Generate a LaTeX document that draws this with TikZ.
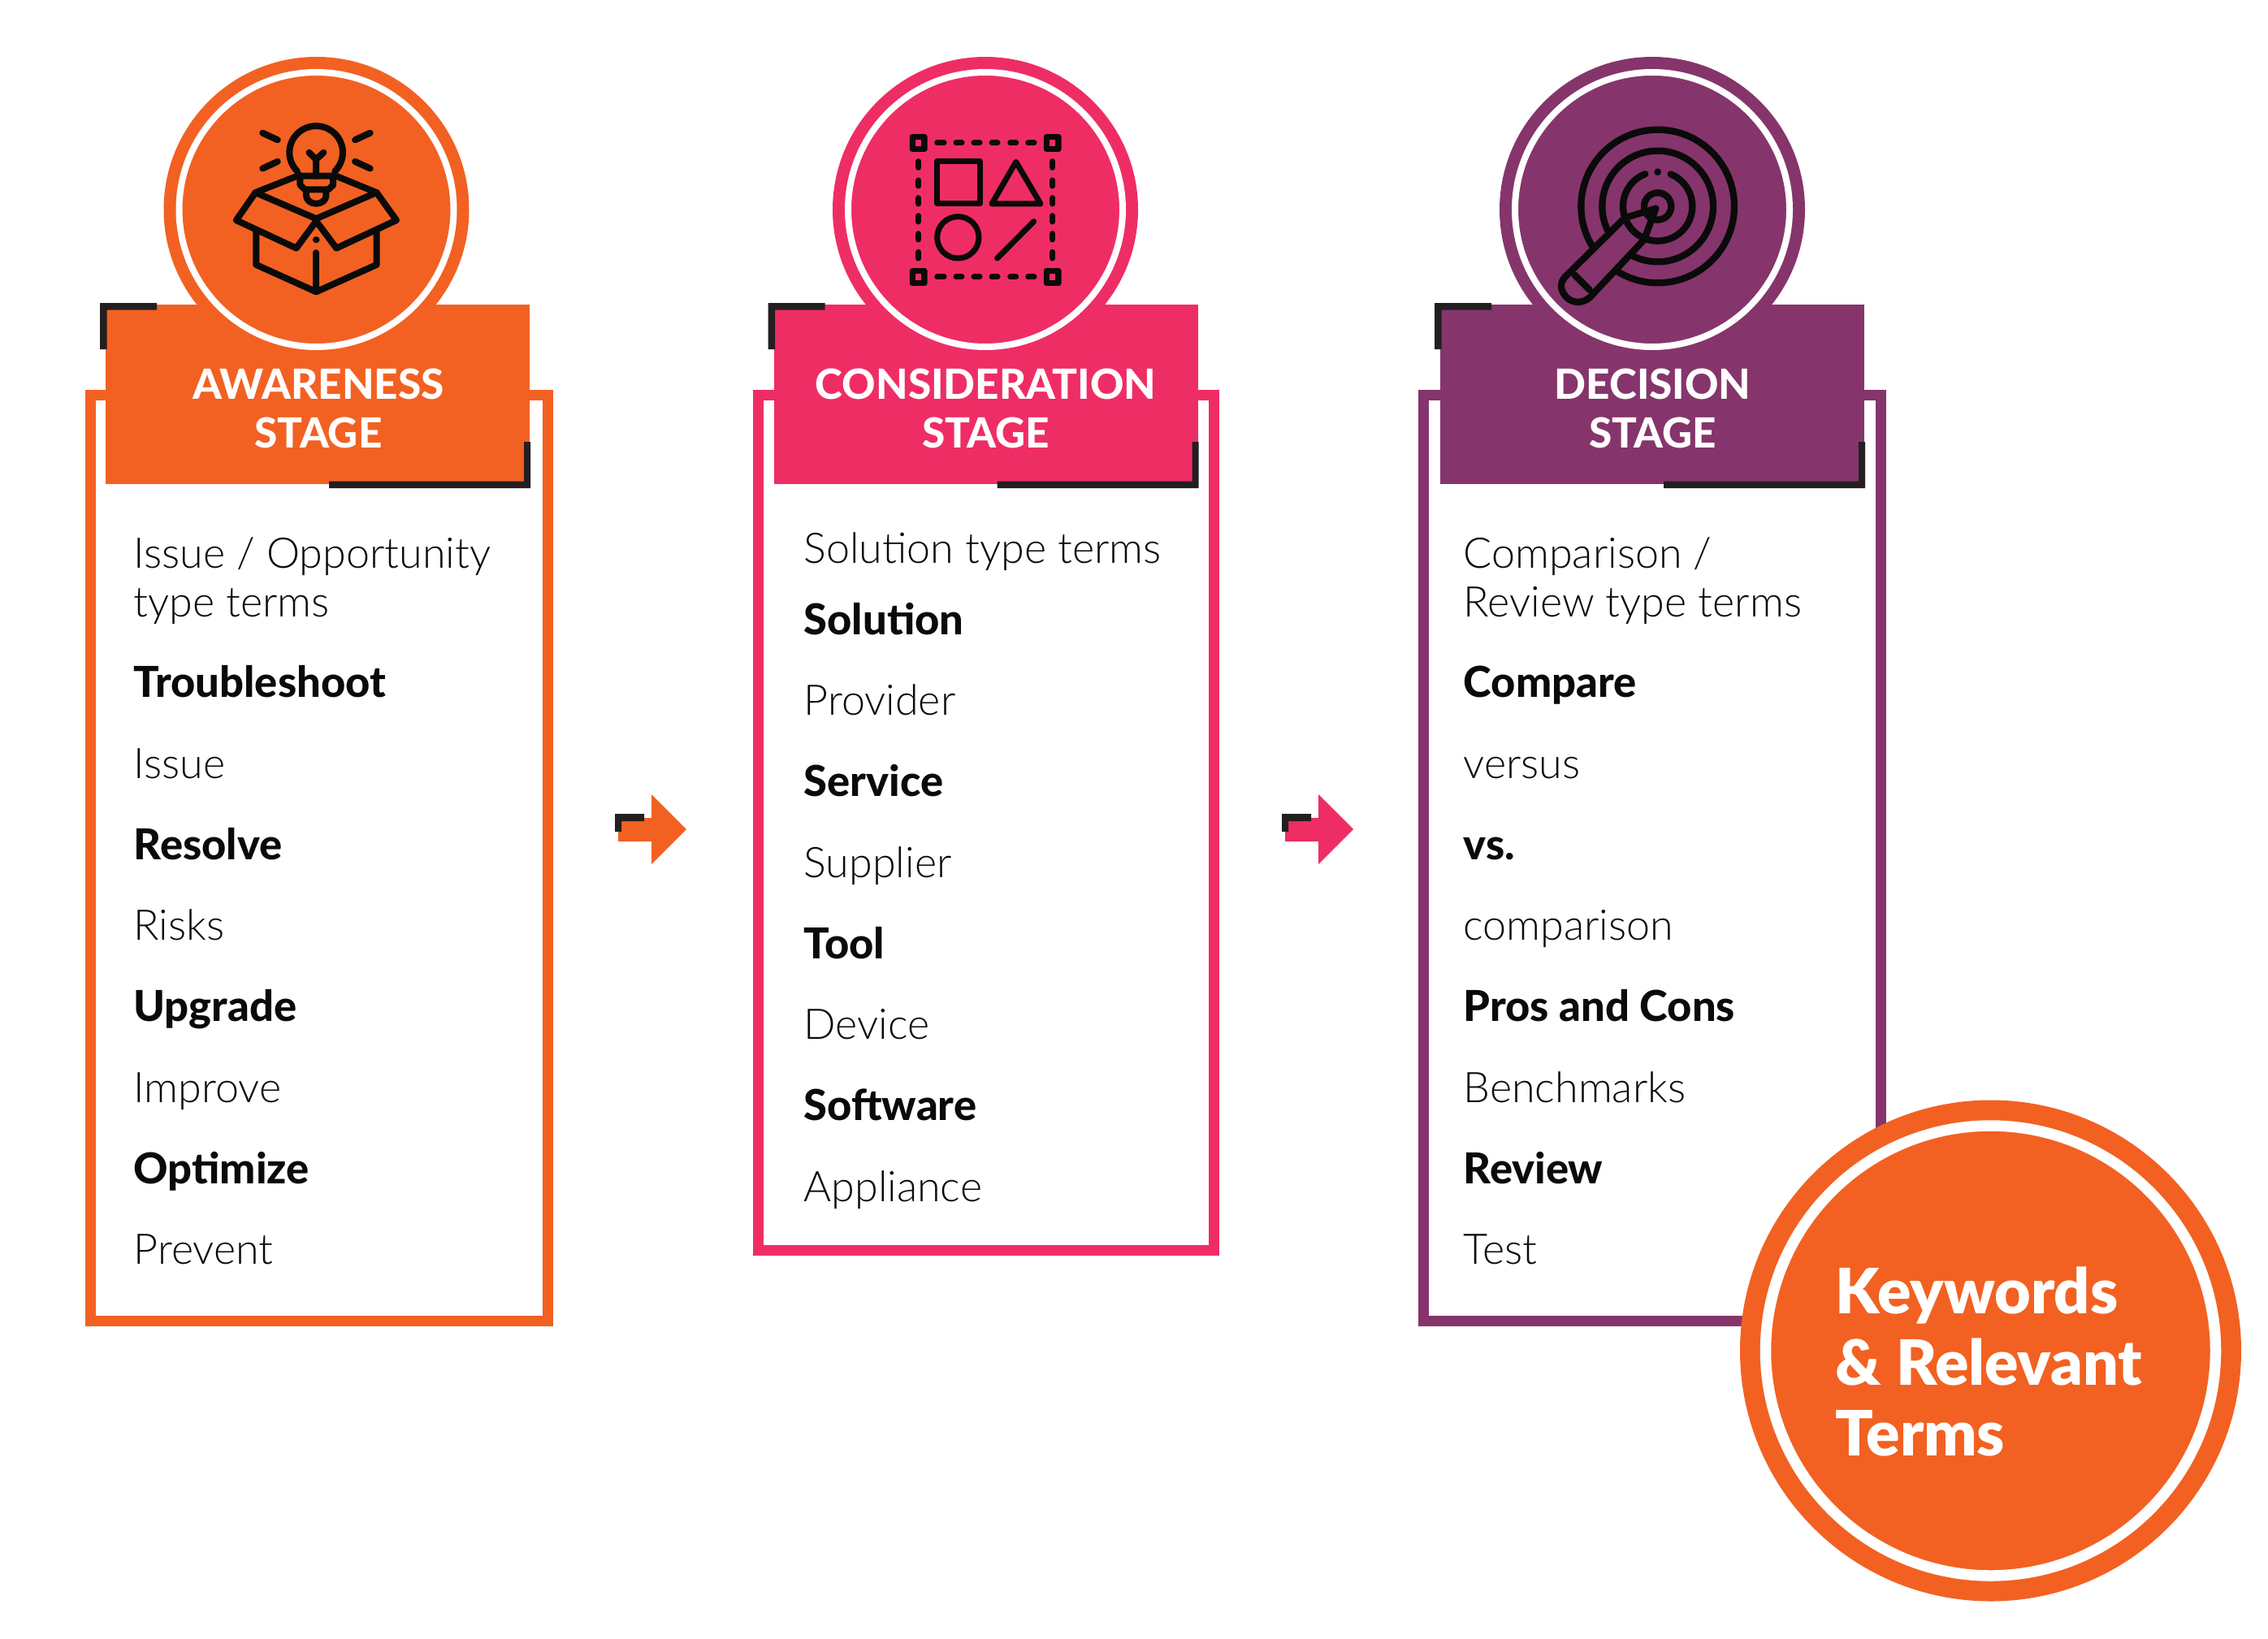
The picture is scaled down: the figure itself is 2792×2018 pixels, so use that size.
\documentclass[tikz,border=0pt]{standalone}
\usepackage{fontspec}
\setmainfont{Lato}
\newfontfamily\lightfont{Lato Light}
\newfontfamily\heavyfont{Lato Heavy}
\newfontfamily\blackfont{Lato Black}
\definecolor{orangeC}{HTML}{F26122}
\definecolor{pinkC}{HTML}{EF2D65}
\definecolor{purpleC}{HTML}{85356B}
\definecolor{darkC}{HTML}{231F20}
\definecolor{iconC}{HTML}{0A0A0A}
\tikzset{
  x=1pt,y=-1pt,
  term/.style={anchor=base west,inner sep=0pt,text=iconC,font=\fontsize{52}{60}\selectfont\lightfont},
  keyterm/.style={anchor=base west,inner sep=0pt,text=iconC,font=\fontsize{52.5}{60}\selectfont\heavyfont},
  headtext/.style={anchor=base,inner sep=0pt,text=white,font=\fontsize{51.2}{60}\selectfont\heavyfont},
  bigtext/.style={anchor=base west,inner sep=0pt,text=white,font=\fontsize{77}{88}\selectfont\blackfont},
  icon/.style={draw=iconC,line width=7.5pt,line cap=round,line join=round},
}
% #1 colour, #2 dx of circle, #3 dx of header box, #4 frame left, #5 frame right, #6 frame bottom
\newcommand{\stageframe}[6]{%
  \draw[#1,line width=13pt,fill=white] (#4+6.5,486) rectangle (#5-6.5,#6-6.5);
  \begin{scope}[shift={(#3,0)}]
    \fill[#1] (130,375) rectangle (652,596);
    \fill[darkC] (123,373)--(193,373)--(193,381.5)--(131.5,381.5)--(131.5,430)--(123,430)--cycle;
    \fill[darkC] (405,601)--(653,601)--(653,544)--(645,544)--(645,592.6)--(405,592.6)--cycle;
  \end{scope}
  \begin{scope}[shift={(#2,0)}]
    \fill[#1] (389.5,258) circle[radius=188];
    \draw[white,line width=8pt] (389.5,258) circle[radius=169];
  \end{scope}
}
\begin{document}
\begin{tikzpicture}
\useasboundingbox (0,0) rectangle (2792,2018);
\fill[white] (0,0) rectangle (2792,2018);
\stageframe{orangeC}{0}{0}{104.5}{681}{1633}
\stageframe{pinkC}{823.5}{822.5}{927}{1501}{1546}
\stageframe{purpleC}{1644.5}{1643}{1746}{2322}{1633}

% header labels
\node[headtext] (h1a) at (392,491) {AWARENESS};
\node[headtext] (h1b) at (392,551) {STAGE};
\node[headtext] (h2a) at (1213.5,491) {CONSIDERATION};
\node[headtext] (h2b) at (1213.5,551) {STAGE};
\node[headtext] (h3a) at (2034.5,491) {DECISION};
\node[headtext] (h3b) at (2034.5,551) {STAGE};

% column 1
\node[term] (a1) at (164.5,699.5) {Issue / Opportunity};
\node[term] (a2) at (164.5,759) {type terms};
\node[keyterm] (a3) at (164.5,858) {Troubleshoot};
\node[term] (a4) at (164.5,958) {Issue};
\node[keyterm] (a5) at (164.5,1058) {Resolve};
\node[term] (a6) at (164.5,1157.5) {Risks};
\node[keyterm] (a7) at (164.5,1257.5) {Upgrade};
\node[term] (a8) at (164.5,1357.5) {Improve};
\node[keyterm] (a9) at (164.5,1457.5) {Optimize};
\node[term] (a10) at (164.5,1556.5) {Prevent};

% column 2
\node[term] (b1) at (989.5,693.5) {Solution type terms};
\node[keyterm] (b2) at (989.5,781) {Solution};
\node[term] (b3) at (989.5,880.5) {Provider};
\node[keyterm] (b4) at (989.5,980.5) {Service};
\node[term] (b5) at (989.5,1080.5) {Supplier};
\node[keyterm] (b6) at (989.5,1180) {Tool};
\node[term] (b7) at (989.5,1279.5) {Device};
\node[keyterm] (b8) at (989.5,1379.5) {Software};
\node[term] (b9) at (989.5,1479.5) {Appliance};

% column 3
\node[term] (c1) at (1801.5,699.5) {Comparison /};
\node[term] (c2) at (1801.5,759) {Review type terms};
\node[keyterm] (c3) at (1801.5,858) {Compare};
\node[term] (c4) at (1801.5,958) {versus};
\node[keyterm] (c5) at (1801.5,1058) {vs.};
\node[term] (c6) at (1801.5,1157.5) {comparison};
\node[keyterm] (c7) at (1801.5,1257.5) {Pros and Cons};
\node[term] (c8) at (1801.5,1357.5) {Benchmarks};
\node[keyterm] (c9) at (1801.5,1457.5) {Review};
\node[term] (c10) at (1801.5,1556.5) {Test};

% block arrows
\fill[orangeC] (761,1007)--(802,1007)--(802,978)--(845,1021)--(802,1064)--(802,1036)--(761,1036)--cycle;
\fill[darkC] (757,1002)--(793,1002)--(793,1011)--(765,1011)--(765,1024)--(757,1024)--cycle;
\begin{scope}[shift={(821,0)}]
\fill[pinkC] (761,1007)--(802,1007)--(802,978)--(845,1021)--(802,1064)--(802,1036)--(761,1036)--cycle;
\fill[darkC] (757,1002)--(793,1002)--(793,1011)--(765,1011)--(765,1024)--(757,1024)--cycle;
\end{scope}

% big circle
\fill[orangeC] (2450.5,1663) circle[radius=308.5];
\draw[white,line width=13.5pt] (2450.5,1663) circle[radius=277];
\node[bigtext] (k1) at (2259.5,1617) {Keywords};
\node[bigtext] (k2) at (2259.5,1705) {\& Relevant};
\node[bigtext] (k3) at (2259.5,1792) {Terms};

% icon 1: box and bulb
\begin{scope}[shift={(90,50)},xscale=0.3953,yscale=0.3704]
  \draw[icon,line width=8pt] (590,307)--(637,330) (637,402)--(590,425) (925,307)--(878,330) (878,402)--(925,425);
  \draw[icon,line width=8pt] (698,434) arc[start angle=135,end angle=405,x radius=83,y radius=88];
  \draw[icon,line width=8pt] (707,450)--(810,450)--(810,480)--(795,495)--(722,495)--(707,480)--cycle;
  \draw[icon,line width=8pt] (726,495)--(726,515) arc[start angle=180,end angle=0,x radius=31,y radius=27]--(788,495);
  \draw[icon,line width=8pt] (757,450)--(757,392) (735,372)--(757,395)--(780,372);
  \draw[icon,line width=8pt] (705,447)--(568,505)--(757,592)--(945,505)--(812,447);
  \draw[icon,line width=8pt] (568,505)--(508,597)--(695,690)--(757,600)--(820,690)--(1007,597)--(945,505);
  \draw[icon,line width=8pt] (570,628)--(570,745)--(757,835)--(945,745)--(945,628);
  \draw[icon,line width=8pt] (757,705)--(757,835);
  \fill[iconC] (757,662) circle[radius=11];
\end{scope}

% icon 2: shapes
\begin{scope}[shift={(1000,60)},scale=1/3]
  \foreach \px in {392,887}{\foreach \py in {348,843}{
    \fill[iconC,rounded corners=3pt] (\px-32.5,\py-32.5) rectangle (\px+32.5,\py+32.5);
    \fill[pinkC] (\px-11,\py-11) rectangle (\px+11,\py+11);
  }}
  \foreach \da/\db in {461/486,531/552,597/618,663/684,731/752,797/819}{
    \draw[icon,line width=7pt] (\da,348)--(\db,348);
    \draw[icon,line width=7pt] (\da,843)--(\db,843);
  }
  \foreach \da/\db in {416/439,486/507,551/573,617/639,683/705,751/774}{
    \draw[icon,line width=7pt] (392,\da)--(392,\db);
    \draw[icon,line width=7pt] (887,\da)--(887,\db);
  }
  \draw[icon,line width=7pt] (461,416) rectangle (618,573);
  \draw[icon,line width=7pt] (752,418)--(663,573)--(843,573)--cycle;
  \draw[icon,line width=7pt] (538,697) circle[radius=77];
  \draw[icon,line width=7pt] (683,774)--(818,638);
\end{scope}

% icon 3: target and pencil
\begin{scope}[shift={(1800,60)},scale=1/3]
  \draw[icon,line width=8.3pt] (722,582) circle[radius=283];
  \draw[icon,line width=8.3pt] (722,582) circle[radius=205];
  \draw[icon,line width=8.3pt,fill=purpleC] (600,625)--(715,590)--(672,705)--(470,920) .. controls (440,945) and (395,940) .. (375,905) .. controls (360,880) and (365,860) .. (378,845)--cycle;
  \draw[icon,line width=8.3pt] (415,835)--(470,890);
  \draw[icon,line width=8.3pt] (722,582)+(292:128) arc[start angle=292,end angle=609,radius=128];
  \draw[icon,line width=8.3pt] (722,582) circle[radius=50];
  \fill[iconC] (722,455) circle[radius=13];
\end{scope}
\end{tikzpicture}
\end{document}
